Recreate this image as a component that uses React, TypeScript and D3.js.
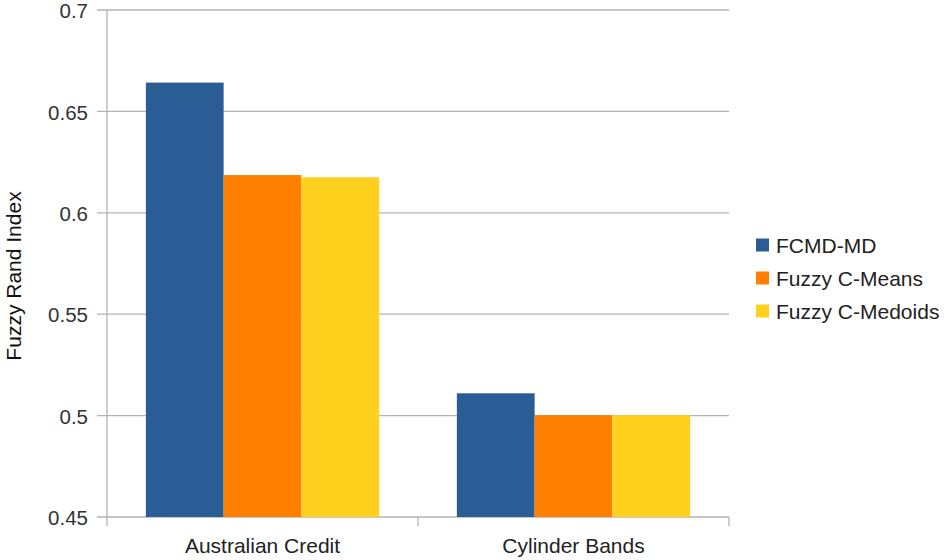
import React, { useEffect, useRef } from "react";
import * as d3 from "d3";

// chart values
const categories = ["Australian Credit", "Cylinder Bands"];
const seriesNames = ["FCMD-MD", "Fuzzy C-Means", "Fuzzy C-Medoids"];
const fcmdMd = [0.6642, 0.511];
const fuzzyCMeans = [0.6186, 0.5002];
const fuzzyCMedoids = [0.6175, 0.5002];
const yTicks = [0.45, 0.5, 0.55, 0.6, 0.65, 0.7];
const colors = ["#2a5d96", "#ff8000", "#ffd01e"];

const App = () => {
  const svgRef = useRef<SVGSVGElement>(null);

  useEffect(() => {
    const width = 944;
    const height = 560;
    const margin = { top: 10, right: 215, bottom: 43, left: 107 };
    const innerW = width - margin.left - margin.right;
    const innerH = height - margin.top - margin.bottom;
    const font = "'Liberation Sans', Arial, sans-serif";
    const gridColor = "#b3b3b3";

    const svg = d3.select(svgRef.current);
    svg.selectAll("*").remove();
    svg.attr("width", width).attr("height", height);

    const g = svg
      .append("g")
      .attr("transform", `translate(${margin.left},${margin.top})`);

    const x0 = d3
      .scaleBand()
      .domain(categories)
      .range([0, innerW])
      .paddingInner(0.25)
      .paddingOuter(0.125);

    const x1 = d3
      .scaleBand()
      .domain(seriesNames)
      .range([0, x0.bandwidth()]);

    const y = d3.scaleLinear().domain([0.45, 0.7]).range([innerH, 0]);

    // gridlines
    g.selectAll(".grid")
      .data(yTicks)
      .enter()
      .append("line")
      .attr("x1", -10)
      .attr("x2", innerW)
      .attr("y1", (d) => y(d))
      .attr("y2", (d) => y(d))
      .attr("stroke", gridColor)
      .attr("stroke-width", 1.3);

    // tick labels
    g.selectAll(".ylab")
      .data(yTicks)
      .enter()
      .append("text")
      .attr("x", -19)
      .attr("y", (d) => y(d))
      .attr("dy", "0.4em")
      .attr("text-anchor", "end")
      .attr("font-family", font)
      .attr("font-size", 20.5)
      .attr("fill", "#333")
      .text((d) => String(d));

    // bars
    const seriesValues = [fcmdMd, fuzzyCMeans, fuzzyCMedoids];
    const barData = categories.flatMap((c, ci) =>
      seriesNames.map((s, si) => ({ c, s, si, v: seriesValues[si][ci] }))
    );
    g.selectAll(".bar")
      .data(barData)
      .enter()
      .append("rect")
      .attr("x", (d) => (x0(d.c) ?? 0) + (x1(d.s) ?? 0))
      .attr("y", (d) => y(d.v))
      .attr("width", x1.bandwidth())
      .attr("height", (d) => innerH - y(d.v))
      .attr("fill", (d) => colors[d.si]);

    // axes lines
    g.append("line")
      .attr("x1", 0)
      .attr("x2", 0)
      .attr("y1", 0)
      .attr("y2", innerH + 9)
      .attr("stroke", gridColor)
      .attr("stroke-width", 1.3);
    [x0.step(), innerW].forEach((xv) => {
      g.append("line")
        .attr("x1", xv)
        .attr("x2", xv)
        .attr("y1", innerH)
        .attr("y2", innerH + 9)
        .attr("stroke", gridColor)
        .attr("stroke-width", 1.3);
    });

    // category labels
    g.selectAll(".xlab")
      .data(categories)
      .enter()
      .append("text")
      .attr("x", (d) => (x0(d) ?? 0) + x0.bandwidth() / 2)
      .attr("y", innerH + 36)
      .attr("text-anchor", "middle")
      .attr("font-family", font)
      .attr("font-size", 21)
      .attr("fill", "#222")
      .text((d) => d);

    // y-axis title
    svg
      .append("text")
      .attr("transform", `translate(21,276) rotate(-90)`)
      .attr("text-anchor", "middle")
      .attr("font-family", font)
      .attr("font-size", 21)
      .attr("fill", "#111")
      .text("Fuzzy Rand Index");

    // legend
    const legend = svg.append("g").attr("transform", `translate(756,245)`);
    seriesNames.forEach((s, i) => {
      const row = legend.append("g").attr("transform", `translate(0,${i * 33})`);
      row
        .append("rect")
        .attr("x", 0)
        .attr("y", -6.5)
        .attr("width", 13)
        .attr("height", 13)
        .attr("fill", colors[i]);
      row
        .append("text")
        .attr("x", 20)
        .attr("y", 0)
        .attr("dy", "0.36em")
        .attr("font-family", font)
        .attr("font-size", 21)
        .attr("fill", "#222")
        .text(s);
    });
  }, []);

  return (
    <div style={{ position: "absolute", left: 0, top: 0 }}>
      <svg ref={svgRef}></svg>
    </div>
  );
};

export default App;
